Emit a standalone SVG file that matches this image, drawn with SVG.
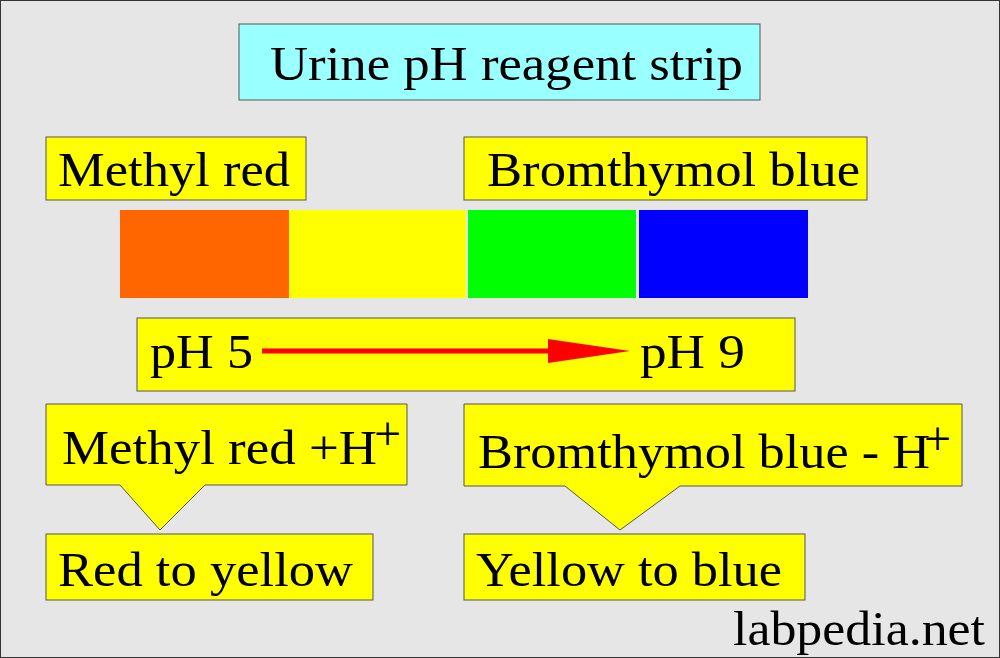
<svg xmlns="http://www.w3.org/2000/svg" width="1000" height="658" viewBox="0 0 1000 658">
<style>
.b{fill:#ffff00;stroke:#555;stroke-width:1}
.t{font-family:"Liberation Serif",serif;font-size:48px;fill:#000}
</style>
<rect x="0.5" y="0.5" width="999" height="657" fill="#e6e6e6" stroke="#333"/>
<g id="title"><rect x="239" y="24" width="521" height="76" fill="#99ffff" stroke="#555"/><text class="t" x="270" y="80" textLength="473" lengthAdjust="spacingAndGlyphs">Urine pH reagent strip</text></g>
<g id="methylred"><rect class="b" x="46" y="137" width="260" height="63"/><text class="t" x="58" y="186" textLength="232" lengthAdjust="spacingAndGlyphs">Methyl red</text></g>
<g id="bromthymol"><rect class="b" x="464" y="137" width="403" height="63"/><text class="t" x="487" y="186" textLength="373" lengthAdjust="spacingAndGlyphs">Bromthymol blue</text></g>
<g id="strip">
<rect x="120" y="210" width="169" height="88" fill="#ff6600"/>
<rect x="289" y="210" width="177" height="88" fill="#ffff00"/>
<rect x="468" y="210" width="168" height="88" fill="#00ff00"/>
<rect x="639" y="210" width="169" height="88" fill="#0000ff"/>
</g>
<g id="ph"><rect class="b" x="137" y="318" width="658" height="73"/><text class="t" x="150" y="368" textLength="103" lengthAdjust="spacingAndGlyphs">pH 5</text><text class="t" x="640" y="368" textLength="105" lengthAdjust="spacingAndGlyphs">pH 9</text></g>
<g id="connectors"><line x1="262" y1="351" x2="560" y2="351" stroke="#ff0000" stroke-width="5"/><polygon points="548,339 630,351 548,363" fill="#ff0000"/></g>
<g id="call1"><path class="b" d="M46,404H407V485H205L160,530L120,485H46Z"/><text class="t" x="62" y="464" textLength="315" lengthAdjust="spacingAndGlyphs">Methyl red +H</text><text class="t" x="374" y="450" font-size="56">+</text></g>
<g id="call2"><path class="b" d="M464,404H962V486H680L620,530L565,486H464Z"/><text class="t" x="478" y="468" textLength="452" lengthAdjust="spacingAndGlyphs">Bromthymol blue - H</text><text class="t" x="924" y="455" font-size="56">+</text></g>
<g id="r2y"><rect class="b" x="46" y="534" width="327" height="66"/><text class="t" x="58" y="586" textLength="295" lengthAdjust="spacingAndGlyphs">Red to yellow</text></g>
<g id="y2b"><rect class="b" x="464" y="534" width="341" height="66"/><text class="t" x="476" y="586" textLength="306" lengthAdjust="spacingAndGlyphs">Yellow to blue</text></g>
<text class="t" x="733" y="645" textLength="252" lengthAdjust="spacingAndGlyphs">labpedia.net</text>
</svg>
